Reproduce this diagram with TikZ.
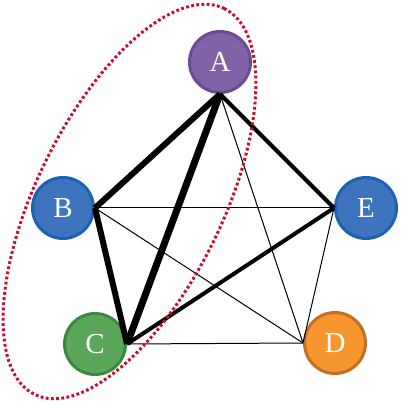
\documentclass[tikz,border=0pt]{standalone}
\usepackage{fontspec}
\setmainfont{Liberation Serif}
\usetikzlibrary{positioning}
\definecolor{apurple}{HTML}{8162A6}
\definecolor{apurpled}{HTML}{6A4C93}
\definecolor{bblue}{HTML}{3E74BE}
\definecolor{bblued}{HTML}{1C62B0}
\definecolor{cgreen}{HTML}{5AA65B}
\definecolor{cgreend}{HTML}{3B8A3C}
\definecolor{dorange}{HTML}{F7962F}
\definecolor{doranged}{HTML}{C26F22}
\definecolor{ringred}{HTML}{C8102E}

\begin{document}
\begin{tikzpicture}[x=1pt,y=1pt,vtx/.style={circle,line width=3pt,minimum size=61pt,inner sep=0pt,text=white,font=\fontsize{29}{32}\selectfont},thin edge/.style={line width=1pt},mid edge/.style={line width=4pt},fat edge/.style={line width=6pt}]
\useasboundingbox (0,0) rectangle (402,405);
\node[vtx,fill=apurple,draw=apurpled] (a) at (220,343) {A};
\node[vtx,fill=bblue,draw=bblued] (b) at (63,197) {B};
\node[vtx,fill=bblue,draw=bblued] (e) at (366,197) {E};
\node[vtx,fill=cgreen,draw=cgreend] (c) at (95,61) {C};
\node[vtx,fill=dorange,draw=doranged] (d) at (335,62) {D};
% light links
\draw[thin edge] (b.east) -- (e.west);
\draw[thin edge] (b.east) -- (d.west);
\draw[thin edge] (a.south) -- (d.west);
\draw[thin edge] (e.west) -- (d.west);
\draw[thin edge] (c.east) -- (d.west);
% heavy links
\draw[mid edge] (a.south) -- (e.west);
\draw[mid edge] (c.east) -- (e.west);
\draw[fat edge] (a.south) -- (b.east);
\draw[fat edge] (b.east) -- (c.east);
\draw[line width=7pt] (a.south) -- (c.east);
% group ring
\draw[ringred,line width=3pt,dash pattern=on 2.8pt off 2.4pt,rotate around={63.8:(129.5,203.5)}] (129.5,203.5) ellipse [x radius=215,y radius=93];
\end{tikzpicture}
\end{document}
